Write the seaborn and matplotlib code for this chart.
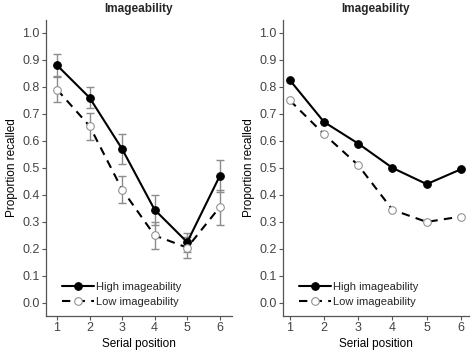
import numpy as np
import pandas as pd
import matplotlib
matplotlib.use("Agg")
import matplotlib.pyplot as plt
import seaborn as sns

positions = [1, 2, 3, 4, 5, 6]

# left panel (with error bars)
left_high = [0.88, 0.76, 0.57, 0.345, 0.225, 0.47]
left_low = [0.79, 0.655, 0.42, 0.25, 0.205, 0.355]
left_high_err = [0.04, 0.04, 0.055, 0.055, 0.035, 0.06]
left_low_err = [0.045, 0.05, 0.05, 0.05, 0.04, 0.065]

# right panel
right_high = [0.825, 0.67, 0.59, 0.50, 0.44, 0.495]
right_low = [0.75, 0.625, 0.51, 0.345, 0.30, 0.32]

labels = ["High imageability", "Low imageability"]

sns.set_style("ticks")
plt.rcParams["font.family"] = ["Liberation Sans", "DejaVu Sans"]

fig = plt.figure(figsize=(4.74, 3.55), dpi=100)
ax1 = fig.add_axes([0.097, 0.110, 0.392, 0.834])
ax2 = fig.add_axes([0.597, 0.110, 0.392, 0.834])

txt = "#444444"
grey = "#8c8c8c"


def panel(ax, high, low, xlim, high_err=None, low_err=None):
    df = pd.DataFrame({
        "pos": positions * 2,
        "val": high + low,
        "cond": [labels[0]] * 6 + [labels[1]] * 6,
    })
    if high_err is not None:
        ax.errorbar(positions, high, yerr=high_err, fmt="none", ecolor=grey,
                    elinewidth=1, capsize=2.7, capthick=1, zorder=1)
        ax.errorbar(positions, low, yerr=low_err, fmt="none", ecolor=grey,
                    elinewidth=1, capsize=2.7, capthick=1, zorder=1)
    sns.lineplot(data=df[df.cond == labels[0]], x="pos", y="val", ax=ax,
                 color="black", lw=1.5, marker="o", markersize=5.5,
                 markerfacecolor="black", markeredgecolor="black",
                 label=labels[0], zorder=3)
    sns.lineplot(data=df[df.cond == labels[1]], x="pos", y="val", ax=ax,
                 color="black", lw=1.5, marker="o", markersize=5.5,
                 markerfacecolor="white", markeredgecolor=grey,
                 linestyle=(0, (4, 3)), label=labels[1], zorder=3)
    ax.set_xlim(*xlim)
    ax.set_ylim(-0.048, 1.048)
    ax.set_xticks(positions)
    ax.set_yticks(np.arange(0, 1.01, 0.1))
    ax.set_yticklabels([f"{v:.1f}" for v in np.arange(0, 1.01, 0.1)])
    ax.tick_params(labelsize=9, colors="#555555", labelcolor=txt,
                   length=3, width=0.8, pad=1.5)
    for s in ["left", "bottom"]:
        ax.spines[s].set_color("#555555")
        ax.spines[s].set_linewidth(0.9)
    sns.despine(ax=ax)
    ax.set_xlabel("Serial position", fontsize=8.5, color="black", labelpad=3)
    ax.set_ylabel("Proportion recalled", fontsize=8.5, color="black",
                  labelpad=3)
    ax.set_title("Imageability", fontsize=8.5, fontweight="bold", pad=6)
    ax.legend(loc="lower left", frameon=False, fontsize=8,
              handlelength=2.9, handletextpad=0.2, labelspacing=0.45,
              bbox_to_anchor=(0.06, 0.016), borderaxespad=0)


panel(ax1, left_high, left_low, (0.66, 6.37), left_high_err, left_low_err)
panel(ax2, right_high, right_low, (0.8, 6.23))

fig.savefig("out.png", dpi=100)
